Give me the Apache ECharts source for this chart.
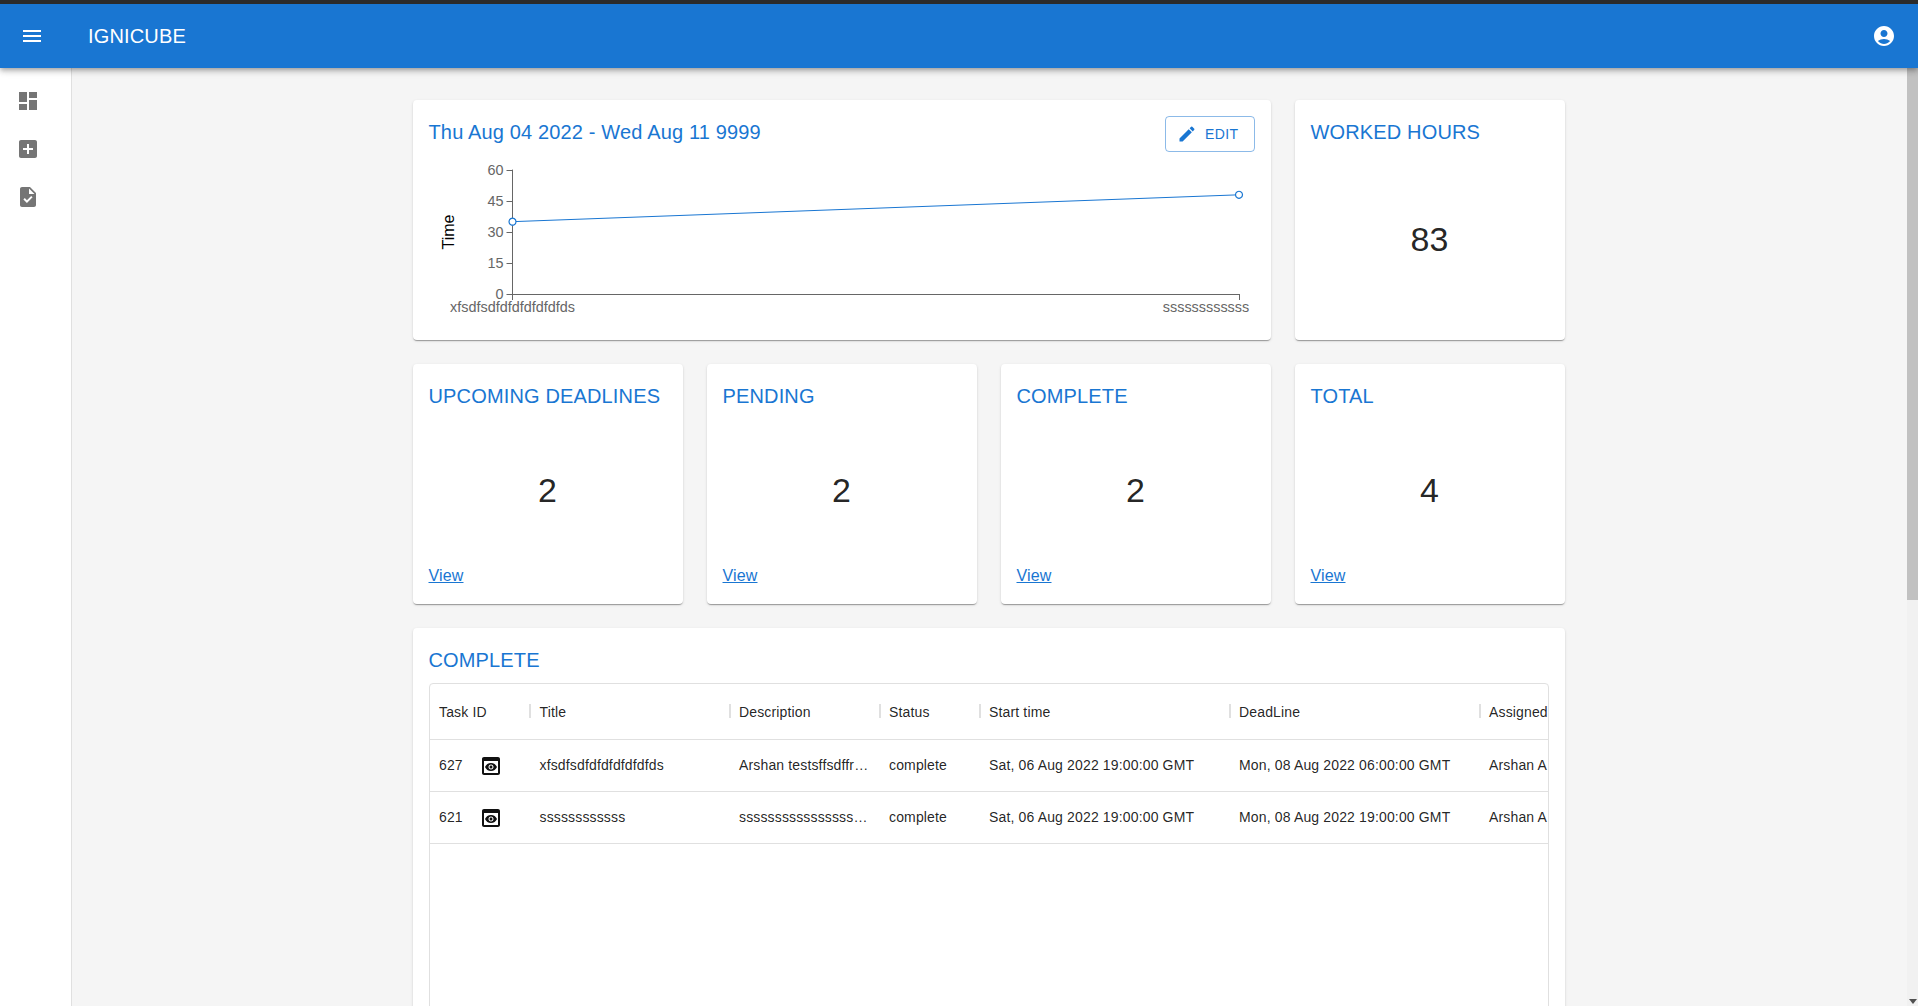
<!DOCTYPE html>
<html>
<head>
<meta charset="utf-8">
<title>IGNICUBE</title>
<script src="https://cdn.jsdelivr.net/npm/echarts@6/dist/echarts.min.js"></script>
<style>
html,body{margin:0;height:100%;overflow:hidden;background:#f5f5f5;font-family:"Liberation Sans",Arial,sans-serif;color:rgba(0,0,0,.87)}
.abs{position:absolute}
#topline{left:0;top:0;width:1918px;height:4px;background:#2b2b2b;z-index:5}
#bar{left:0;top:4px;width:1918px;height:64px;background:#1976d2;z-index:4;box-shadow:0 2px 4px -1px rgba(0,0,0,.2),0 4px 5px 0 rgba(0,0,0,.14),0 1px 10px 0 rgba(0,0,0,.12)}
#brand{left:88px;top:16px;line-height:32px;font-size:20px;color:#fff;letter-spacing:.15px}
#drawer{left:0;top:68px;width:71px;height:938px;background:#fff;border-right:1px solid #e0e0e0}
.card{position:absolute;background:#fff;border-radius:4px;box-shadow:0 2px 1px -1px rgba(0,0,0,.2),0 1px 1px 0 rgba(0,0,0,.14),0 1px 3px 0 rgba(0,0,0,.12)}
.h{position:absolute;left:15.5px;font-size:20px;line-height:32px;color:#1976d2;white-space:nowrap;letter-spacing:.15px}
.num{position:absolute;left:-1px;right:0;text-align:center;font-size:34px;line-height:40px}
.view{position:absolute;left:15.5px;font-size:16px;line-height:24px;color:#1976d2;text-decoration:underline;letter-spacing:.15px}
#edit{left:1165px;top:116px;width:90px;height:36px;box-sizing:border-box;border:1px solid rgba(25,118,210,.5);border-radius:4px;color:#1976d2;font-size:14px;line-height:34px;letter-spacing:.4px}
#chart{left:420px;top:150px;width:840px;height:185px}
#grid{left:429px;top:683px;width:1120px;height:340px;box-sizing:border-box;border:1px solid #e0e0e0;border-radius:4px;overflow:hidden;background:#fff}
.cell{position:absolute;font-size:14px;line-height:20px;white-space:nowrap;letter-spacing:.15px}
.sep{position:absolute;width:2px;height:14px;background:#e0e0e0}
.rule{position:absolute;left:0;width:1120px;height:1px;background:#e0e0e0}
svg{position:absolute;display:block}
#track{left:1907px;top:68px;width:11px;height:938px;background:#f1f1f1}
#thumb{left:1907px;top:68px;width:11px;height:532px;background:#c1c1c1}
#arrow{left:1909px;top:999px;width:0;height:0;border-left:4px solid transparent;border-right:4px solid transparent;border-top:5px solid #505050}
</style>
</head>
<body>
<div class="abs" id="topline"></div>
<div class="abs" id="bar">
	<svg style="left:20px;top:20px" width="24" height="24" viewBox="0 0 24 24" fill="#fff"><path d="M3 18h18v-2H3v2zm0-5h18v-2H3v2zm0-7v2h18V6H3z"/></svg>
	<div class="abs" id="brand">IGNICUBE</div>
	<svg style="left:1872px;top:20px" width="24" height="24" viewBox="0 0 24 24" fill="#fff"><path d="M12 2C6.48 2 2 6.48 2 12s4.48 10 10 10 10-4.48 10-10S17.52 2 12 2zm0 4c1.93 0 3.5 1.57 3.5 3.5S13.93 13 12 13s-3.5-1.57-3.5-3.5S10.07 6 12 6zm0 14c-2.03 0-4.43-.82-6.14-2.88C7.55 15.8 9.68 15 12 15s4.45.8 6.14 2.12C16.43 19.18 14.03 20 12 20z"/></svg>
</div>
<div class="abs" id="drawer">
	<svg style="left:16px;top:21px" width="24" height="24" viewBox="0 0 24 24" fill="#757575"><path d="M3 13h8V3H3v10zm0 8h8v-6H3v6zm10 0h8V11h-8v10zm0-18v6h8V3h-8z"/></svg>
	<svg style="left:16px;top:69px" width="24" height="24" viewBox="0 0 24 24" fill="#757575"><path d="M19 3H5c-1.11 0-2 .9-2 2v14c0 1.1.89 2 2 2h14c1.1 0 2-.9 2-2V5c0-1.1-.9-2-2-2zm-2 10h-4v4h-2v-4H7v-2h4V7h2v4h4v2z"/></svg>
	<svg style="left:16px;top:117px" width="24" height="24" viewBox="0 0 24 24" fill="#757575"><path d="M14 2H6c-1.1 0-1.99.9-1.99 2L4 20c0 1.1.89 2 1.99 2H18c1.1 0 2-.9 2-2V8l-6-6zm-3.06 16L7.4 14.46l1.41-1.41 2.12 2.12 4.24-4.24 1.41 1.41L10.94 18zM13 9V3.5L18.5 9H13z"/></svg>
</div>

<div class="card" style="left:413px;top:100px;width:858px;height:240px">
	<div class="h" style="top:16px">Thu Aug 04 2022 - Wed Aug 11 9999</div>
</div>
<div class="abs" id="edit">
	<svg style="left:11px;top:7px" width="20" height="20" viewBox="0 0 24 24" fill="#1976d2"><path d="M3 17.25V21h3.75L17.81 9.94l-3.75-3.75L3 17.25zM20.71 7.04c.39-.39.39-1.02 0-1.41l-2.34-2.34a.9959.9959 0 0 0-1.41 0l-1.83 1.83 3.75 3.75 1.83-1.83z"/></svg>
	<span class="abs" style="left:39px">EDIT</span>
</div>
<div class="abs" id="chart"></div>

<div class="card" style="left:1295px;top:100px;width:270px;height:240px">
	<div class="h" style="top:16px">WORKED HOURS</div>
	<div class="num" style="top:119px">83</div>
</div>

<div id="tiles"></div>

<div class="card" style="left:413px;top:628px;width:1152px;height:420px">
	<div class="h" style="top:16px">COMPLETE</div>
</div>
<div class="abs" id="grid"></div>

<div class="abs" id="track"></div>
<div class="abs" id="thumb"></div>
<div class="abs" id="arrow"></div>

<script>
// chart data
var taskTitles = ['xfsdfsdfdfdfdfdfdfds', 'ssssssssssss'];
var workedTime = [35, 48];
var timeTicks = [0, 15, 30, 45, 60];

// summary tiles
var tileNames = ['UPCOMING DEADLINES', 'PENDING', 'COMPLETE', 'TOTAL'];
var tileCounts = [2, 2, 2, 4];
var tileLeft = [413, 707, 1001, 1295];

// table
var colNames = ['Task ID', 'Title', 'Description', 'Status', 'Start time', 'DeadLine', 'Assigned'];
var colLeft = [9, 109.5, 309, 459, 559, 809, 1059];
var sepLeft = [99, 299, 449, 549, 799, 1049];
var rowIds = ['627', '621'];
var rowTitles = ['xfsdfsdfdfdfdfdfdfds', 'ssssssssssss'];
var rowDesc = ['Arshan testsffsdffr\u2026', 'ssssssssssssssss\u2026'];
var rowStatus = ['complete', 'complete'];
var rowStart = ['Sat, 06 Aug 2022 19:00:00 GMT', 'Sat, 06 Aug 2022 19:00:00 GMT'];
var rowDead = ['Mon, 08 Aug 2022 06:00:00 GMT', 'Mon, 08 Aug 2022 19:00:00 GMT'];
var rowUser = ['Arshan A', 'Arshan A'];

var eyePath = 'M19 3H5c-1.11 0-2 .9-2 2v14c0 1.1.89 2 2 2h14c1.1 0 2-.9 2-2V5c0-1.11-.89-2-2-2zm0 16H5V7h14v12zm-5.5-6c0 .83-.67 1.5-1.5 1.5s-1.5-.67-1.5-1.5.67-1.5 1.5-1.5 1.5.67 1.5 1.5zM12 9c-2.73 0-5.06 1.66-6 4 .94 2.34 3.27 4 6 4s5.06-1.66 6-4c-.94-2.34-3.27-4-6-4zm0 6.5c-1.38 0-2.5-1.12-2.5-2.5s1.12-2.5 2.5-2.5 2.5 1.12 2.5 2.5-1.12 2.5-2.5 2.5z';

// tiles
var tilesHtml = '';
for (var i = 0; i < tileNames.length; i++) {
	tilesHtml += '<div class="card" style="left:' + tileLeft[i] + 'px;top:364px;width:270px;height:240px">'
		+ '<div class="h" style="top:16px">' + tileNames[i] + '</div>'
		+ '<div class="num" style="top:106px">' + tileCounts[i] + '</div>'
		+ '<div class="view" style="top:200px">View</div></div>';
}
document.getElementById('tiles').innerHTML = tilesHtml;

// table
function cell(x, y, text) {
	return '<div class="cell" style="left:' + x + 'px;top:' + y + 'px">' + text + '</div>';
}
var gridHtml = '';
for (var c = 0; c < colNames.length; c++) {
	gridHtml += cell(colLeft[c], 18, colNames[c]);
}
for (var s = 0; s < sepLeft.length; s++) {
	gridHtml += '<div class="sep" style="left:' + sepLeft[s] + 'px;top:20px"></div>';
}
gridHtml += '<div class="rule" style="top:55px"></div>';
for (var r = 0; r < rowIds.length; r++) {
	var y = 71 + r * 52;
	gridHtml += cell(colLeft[0], y, rowIds[r]);
	gridHtml += '<svg style="left:49px;top:' + (y - 1) + 'px" width="24" height="24" viewBox="0 0 24 24" fill="#111"><path d="' + eyePath + '"/></svg>';
	gridHtml += cell(colLeft[1], y, rowTitles[r]);
	gridHtml += cell(colLeft[2], y, rowDesc[r]);
	gridHtml += cell(colLeft[3], y, rowStatus[r]);
	gridHtml += cell(colLeft[4], y, rowStart[r]);
	gridHtml += cell(colLeft[5], y, rowDead[r]);
	gridHtml += cell(colLeft[6], y, rowUser[r]);
	gridHtml += '<div class="rule" style="top:' + (107 + r * 52) + 'px"></div>';
}
document.getElementById('grid').innerHTML = gridHtml;

// line chart
var myChart = echarts.init(document.getElementById('chart'), null, { renderer: 'svg' });
var option = {
	animation: false,
	textStyle: { fontFamily: '"Liberation Sans", Arial, sans-serif' },
	grid: { left: 92.5, right: 21, top: 20, height: 124 },
	xAxis: {
		type: 'category',
		boundaryGap: false,
		data: taskTitles,
		axisLine: { lineStyle: { color: '#666', width: 1 } },
		axisTick: { length: 6, alignWithLabel: true, lineStyle: { color: '#666' } },
		axisLabel: {
			show: true,
			interval: 0,
			margin: 6,
			color: '#666',
			fontSize: 14.4,
			// the last label is pushed left so it stays inside the card
			formatter: function (value, index) {
				return index == taskTitles.length - 1 ? '{last|' + value + '}' : value;
			},
			rich: { last: { color: '#666', fontSize: 14.4, padding: [0, 66, 0, 0] } }
		}
	},
	yAxis: {
		type: 'value',
		min: timeTicks[0],
		max: timeTicks[timeTicks.length - 1],
		interval: 15,
		name: 'Time',
		nameLocation: 'middle',
		nameGap: 56,
		nameTextStyle: { color: '#000', fontSize: 16 },
		axisLine: { show: true, lineStyle: { color: '#666' } },
		axisTick: { show: true, length: 6, lineStyle: { color: '#666' } },
		axisLabel: { color: '#666', fontSize: 14.4, margin: 9, padding: [0, 0, 2, 0] },
		splitLine: { show: false }
	},
	series: [{
		type: 'line',
		data: workedTime,
		symbol: 'circle',
		symbolSize: 7,
		showSymbol: true,
		clip: false,
		lineStyle: { color: '#1976d2', width: 1 },
		itemStyle: { color: '#fff', borderColor: '#1976d2', borderWidth: 1.2 }
	}]
};
myChart.setOption(option);
</script>
</body>
</html>
